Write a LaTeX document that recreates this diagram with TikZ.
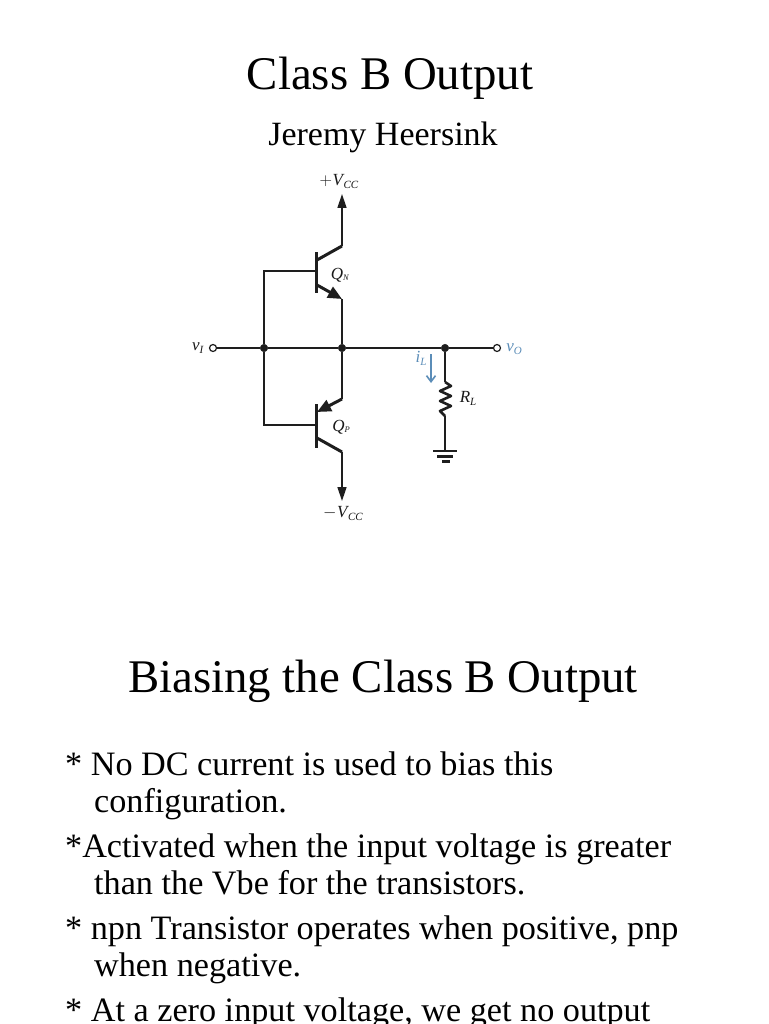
\documentclass[tikz,border=0pt]{standalone}
\usepackage{fontspec}
\setmainfont{Liberation Serif}
\usetikzlibrary{arrows.meta}
\definecolor{curblue}{HTML}{5B8DB8}
\definecolor{wirec}{HTML}{1E1E1E}
\tikzset{
  x=1pt,y=-1pt,
  wire/.style={draw=wirec,line width=1.5pt},
  thick wire/.style={draw=wirec,line width=3pt},
  devbar/.style={draw=wirec,line width=3pt},
  tip/.style={-{Triangle[length=14pt,width=9pt]}},
  dotnode/.style={circle,fill=wirec,draw=wirec,line width=0.5pt,inner sep=0pt,minimum size=7.500pt},
  term/.style={circle,draw=wirec,fill=white,line width=1.2pt,inner sep=0pt,minimum size=7pt},
  txt/.style={inner sep=0pt,anchor=base west,text=black},
  ctr/.style={inner sep=0pt,anchor=base,text=black},
  lab/.style={inner sep=0pt,text=black!90,font=\fontsize{17}{17}\selectfont},
  blab/.style={lab,text=curblue},
}
\newcommand{\bodyline}[3]{\node[txt,font=\fontsize{34.2}{34.2}\selectfont] (#1) at #2 {#3};}
\newcommand{\lsub}[1]{\raisebox{-3pt}{\fontsize{11}{11}\selectfont\textit{#1}}}
\begin{document}
\begin{tikzpicture}
\useasboundingbox (0,0) rectangle (768,1024);
\fill[white] (0,0) rectangle (768,1024);
% titles
\node[ctr,font=\fontsize{46.8}{46.8}\selectfont] (title) at (390,90) {Class B Output};
\node[ctr,font=\fontsize{34}{34}\selectfont] (author) at (383,146) {Jeremy Heersink};
\node[ctr,font=\fontsize{46.8}{46.8}\selectfont] (title2) at (383,692) {Biasing the Class B Output};
% body
\bodyline{l1}{(65,775)}{* No DC current is used to bias this}
\bodyline{l2}{(94,812)}{configuration.}
\bodyline{l3}{(65,857)}{*Activated when the input voltage is greater}
\bodyline{l4}{(94,894)}{than the Vbe for the transistors.}
\bodyline{l5}{(65,939)}{* npn Transistor operates when positive, pnp}
\bodyline{l6}{(94,976)}{when negative.}
\bodyline{l7}{(65,1021)}{* At a zero input voltage, we get no output}
% circuit nodes
\node[term] (vi) at (213,348) {};
\node[dotnode] (jb) at (264,348) {};
\node[dotnode] (je) at (342,348) {};
\node[dotnode] (jo) at (445,348) {};
\node[term] (vo) at (497,348) {};
\coordinate (bn) at (316,271);
\coordinate (bp) at (316,425);
\coordinate (bnl) at (264,271);
\coordinate (bpl) at (264,425);
\coordinate (vccp) at (342,194);
\coordinate (cn) at (342,246);
\coordinate (en) at (342,299);
\coordinate (ep) at (342,399);
\coordinate (cp) at (342,452);
\coordinate (vccm) at (342,501);
\coordinate (rt) at (445,382);
\coordinate (rb) at (445,416);
\coordinate (gnd) at (445,451);
% wires
\draw[wire] (vi) -- (jb) -- (je) -- (jo) -- (vo);
\draw[wire] (bn) -- (bnl) -- (jb) -- (bpl) -- (bp);
\draw[wire] (en) -- (je) -- (ep);
% transistor N
\draw[devbar] (316,252) -- (316,293);
\draw[thick wire] (317,260) -- (cn);
\draw[wire,tip] (cn) -- (vccp);
\draw[thick wire,-{Triangle[length=14pt,width=12pt]}] (317,285) -- (en);
% transistor P
\draw[devbar] (316,404) -- (316,448);
\draw[thick wire,-{Triangle[length=14pt,width=12pt]}] (ep) -- (317,412);
\draw[thick wire] (317,438) -- (cp);
\draw[wire,tip] (cp) -- (vccm);
% resistor
\draw[wire] (jo) -- (rt);
\draw[draw=wirec,line width=2.6pt,line join=round] (rt) -- (451,386) -- (440,391) -- (451,396) -- (440,401) -- (451,406) -- (440,411) -- (rb);
\draw[wire] (rb) -- (gnd);
\draw[draw=wirec,line width=2.2pt] (433,451) -- (457,451);
\draw[draw=wirec,line width=2.2pt] (437,456.500) -- (453,456.500);
\draw[draw=wirec,line width=2.2pt] (442,461.500) -- (450,461.500);
% current arrow
\coordinate (ia) at (431,354);
\coordinate (ib) at (431,383);
\draw[draw=curblue,line width=1.6pt,-{Straight Barb[length=6pt,width=9pt]}] (ia) -- (ib);
% labels
\node[lab] (lvcc) at (339,181) {$+$\kern0.5pt\textit{V}\kern-1pt\lsub{CC}};
\node[lab] (lvee) at (343,513) {$-$\kern0.5pt\textit{V}\kern-1pt\lsub{CC}};
\node[lab] (lqn) at (340,275) {\textit{Q}\raisebox{-1pt}{\fontsize{8.500}{8.500}\selectfont\textit{N}}};
\node[lab] (lqp) at (341,427) {\textit{Q}\raisebox{-1pt}{\fontsize{8.500}{8.500}\selectfont\textit{P}}};
\node[lab] (lvi) at (198,348) {\textit{v}\lsub{I}};
\node[blab] (lvo) at (514,349) {\textit{v}\lsub{O}};
\node[blab] (lil) at (421,358) {\textit{i}\lsub{L}};
\node[lab] (lrl) at (468,398) {\textit{R}\lsub{L}};
\end{tikzpicture}
\end{document}
